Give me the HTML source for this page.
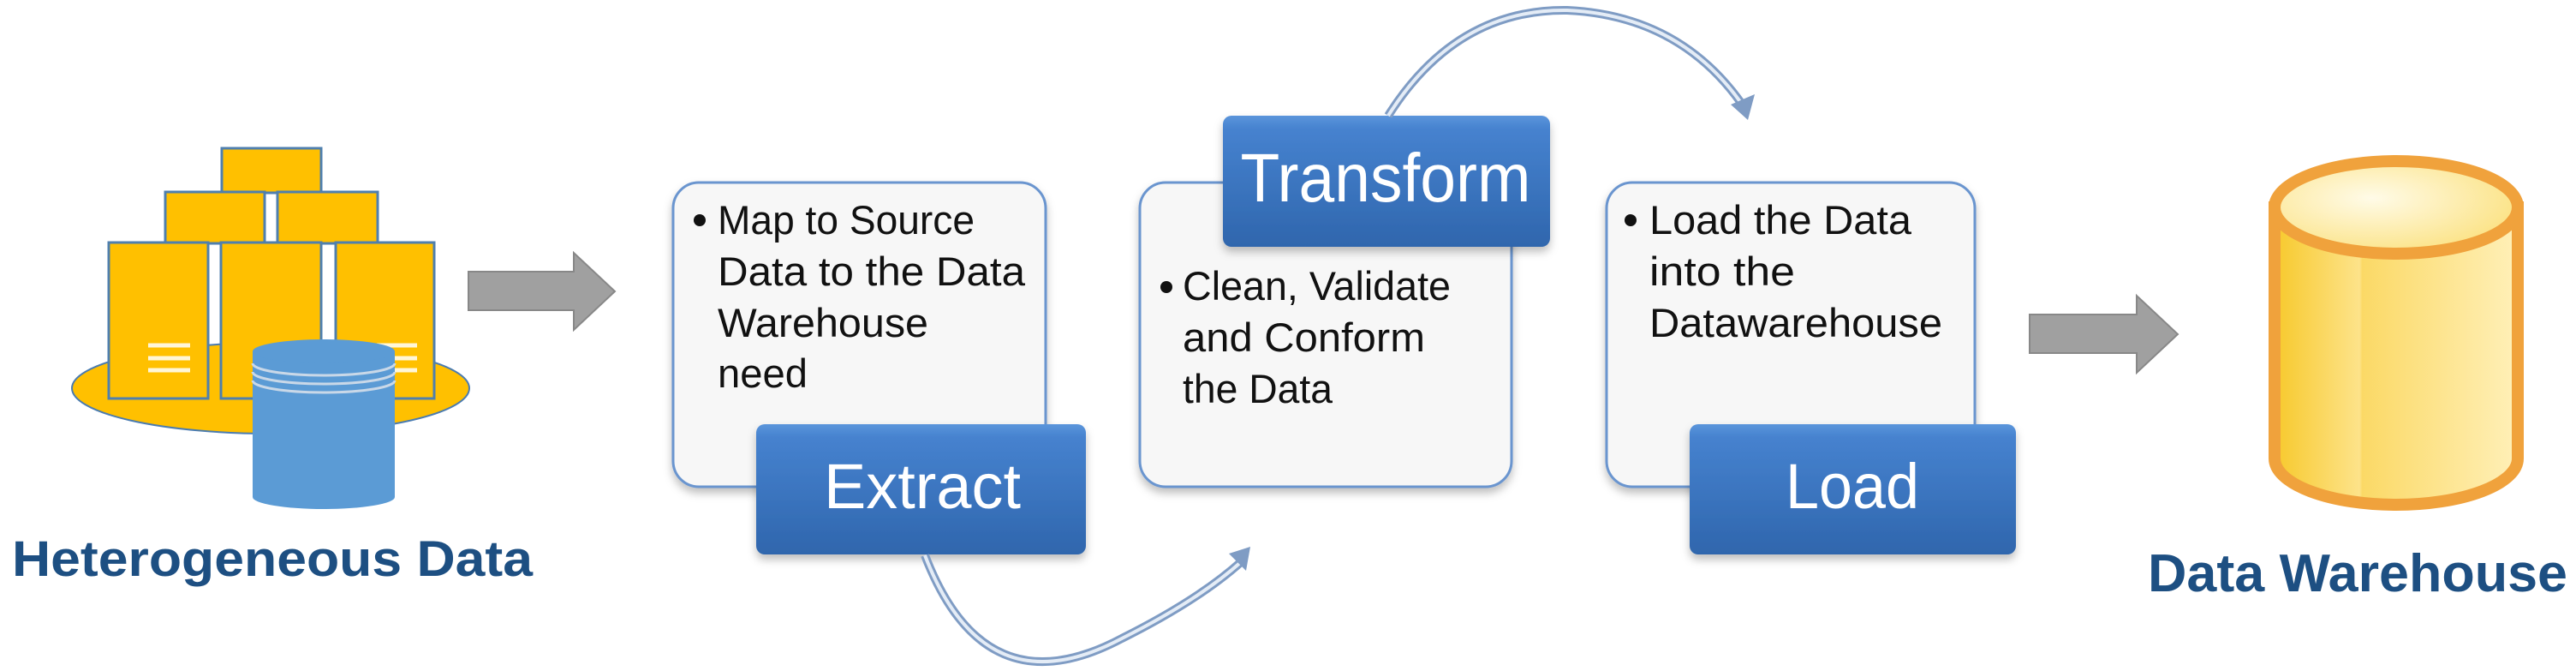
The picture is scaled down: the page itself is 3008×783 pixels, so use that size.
<!DOCTYPE html>
<html><head><meta charset="utf-8"><style>
html,body{margin:0;padding:0;background:#fff;}
svg{display:block;}
.t{font-family:"Liberation Sans",sans-serif;fill:#111;font-size:47px;}
.b{font-family:"Liberation Sans",sans-serif;fill:#fff;}
.h{font-family:"Liberation Sans",sans-serif;fill:#1d4f82;font-weight:bold;}
</style></head><body>
<svg width="3008" height="783" viewBox="0 0 3008 783" xmlns="http://www.w3.org/2000/svg">
<defs>
<linearGradient id="btn" x1="0" y1="0" x2="0" y2="1">
<stop offset="0" stop-color="#5b95db"/><stop offset="0.1" stop-color="#4682cf"/><stop offset="1" stop-color="#2f66ad"/>
</linearGradient>
<linearGradient id="cyl" x1="0" y1="0" x2="1" y2="0">
<stop offset="0" stop-color="#f7c92c"/><stop offset="0.35" stop-color="#fde38a"/><stop offset="0.36" stop-color="#fbd966"/><stop offset="1" stop-color="#fff0b8"/>
</linearGradient>
<radialGradient id="top" cx="0.4" cy="0.4" r="0.7">
<stop offset="0" stop-color="#fffbe8"/><stop offset="1" stop-color="#fbe07a"/>
</radialGradient>
<filter id="sh" x="-10%" y="-10%" width="130%" height="140%"><feDropShadow dx="0" dy="6" stdDeviation="5" flood-color="#000" flood-opacity="0.25"/></filter>
</defs>

<ellipse cx="316" cy="453" rx="232" ry="53" fill="#ffc000" stroke="#4a7bb0" stroke-width="2"/>
<g fill="#ffc000" stroke="#4f7fae" stroke-width="3">
<rect x="259" y="173" width="116" height="52"/>
<rect x="193" y="224" width="116" height="60"/>
<rect x="324" y="224" width="117" height="60"/>
<rect x="127" y="283" width="116" height="182"/>
<rect x="258" y="283" width="117" height="182"/>
<rect x="392" y="283" width="115" height="182"/>
</g>
<g stroke="#fff6d8" stroke-width="5">
<line x1="173" y1="403" x2="222" y2="403"/><line x1="173" y1="418" x2="222" y2="418"/><line x1="173" y1="432" x2="222" y2="432"/>
<line x1="440" y1="403" x2="487" y2="403"/><line x1="440" y1="418" x2="487" y2="418"/><line x1="440" y1="432" x2="487" y2="432"/>
</g>
<path d="M295 410 L295 580 A83 14 0 0 0 461 580 L461 410 Z" fill="#5b9bd5"/>
<ellipse cx="378" cy="410" rx="83" ry="14" fill="#5b9bd5"/>
<g fill="none" stroke="#c9d8e8" stroke-width="3">
<path d="M295 424 A83 14 0 0 0 461 424"/><path d="M295 434 A83 14 0 0 0 461 434"/><path d="M295 444 A83 14 0 0 0 461 444"/>
</g>
<text class="h" x="14" y="672" font-size="58" textLength="608" lengthAdjust="spacingAndGlyphs">Heterogeneous Data</text>

<path d="M547 317 L670 317 L670 295 L718 340 L670 385 L670 362 L547 362 Z" fill="#a0a0a0" stroke="#888" stroke-width="2"/>

<rect x="786" y="213" width="435" height="355" rx="30" fill="#f7f7f7" stroke="#6a95cf" stroke-width="3" filter="url(#sh)"/>
<circle cx="817" cy="257" r="7" fill="#111"/>
<text class="t" x="838" y="273" textLength="300" lengthAdjust="spacingAndGlyphs">Map to Source</text>
<text class="t" x="838" y="333" textLength="359" lengthAdjust="spacingAndGlyphs">Data to the Data</text>
<text class="t" x="838" y="393" textLength="246" lengthAdjust="spacingAndGlyphs">Warehouse</text>
<text class="t" x="838" y="452" textLength="105" lengthAdjust="spacingAndGlyphs">need</text>
<rect x="883" y="495" width="385" height="152" rx="10" fill="url(#btn)" filter="url(#sh)"/>
<text class="b" x="1077" y="593" font-size="74" text-anchor="middle" textLength="230" lengthAdjust="spacingAndGlyphs">Extract</text>

<path d="M1080 648 Q1150 830 1310 745 Q1400 700 1450 655" fill="none" stroke="#7f9cc4" stroke-width="10"/>
<path d="M1080 648 Q1150 830 1310 745 Q1400 700 1450 655" fill="none" stroke="#e4ecf6" stroke-width="4"/>
<path d="M1435 646 L1460 638 L1455 666 Z" fill="#7f9cc4"/>

<rect x="1331" y="213" width="434" height="355" rx="30" fill="#f7f7f7" stroke="#6a95cf" stroke-width="3" filter="url(#sh)"/>
<circle cx="1362" cy="335" r="7" fill="#111"/>
<text class="t" x="1381" y="350" textLength="313" lengthAdjust="spacingAndGlyphs">Clean, Validate</text>
<text class="t" x="1381" y="410" textLength="283" lengthAdjust="spacingAndGlyphs">and Conform</text>
<text class="t" x="1381" y="470" textLength="175" lengthAdjust="spacingAndGlyphs">the Data</text>
<rect x="1428" y="135" width="382" height="153" rx="10" fill="url(#btn)" filter="url(#sh)"/>
<text class="b" x="1618" y="235" font-size="80" text-anchor="middle" textLength="339" lengthAdjust="spacingAndGlyphs">Transform</text>

<path d="M1621 135 Q1700 10 1830 12 Q1960 18 2033 120" fill="none" stroke="#7f9cc4" stroke-width="10"/>
<path d="M1621 135 Q1700 10 1830 12 Q1960 18 2033 120" fill="none" stroke="#e4ecf6" stroke-width="4"/>
<path d="M2021 122 L2049 110 L2041 140 Z" fill="#7f9cc4"/>

<rect x="1876" y="213" width="430" height="355" rx="30" fill="#f7f7f7" stroke="#6a95cf" stroke-width="3" filter="url(#sh)"/>
<circle cx="1904" cy="257" r="7" fill="#111"/>
<text class="t" x="1926" y="273" textLength="306" lengthAdjust="spacingAndGlyphs">Load the Data</text>
<text class="t" x="1926" y="333" textLength="170" lengthAdjust="spacingAndGlyphs">into the</text>
<text class="t" x="1926" y="393" textLength="342" lengthAdjust="spacingAndGlyphs">Datawarehouse</text>
<rect x="1973" y="495" width="381" height="152" rx="10" fill="url(#btn)" filter="url(#sh)"/>
<text class="b" x="2163" y="593" font-size="74" text-anchor="middle" textLength="156" lengthAdjust="spacingAndGlyphs">Load</text>

<path d="M2370 367 L2495 367 L2495 345 L2543 390 L2495 435 L2495 412 L2370 412 Z" fill="#a0a0a0" stroke="#888" stroke-width="2"/>

<path d="M2656 242 L2656 535 A142 54 0 0 0 2940 535 L2940 242 Z" fill="url(#cyl)" stroke="#f0a23c" stroke-width="14"/>
<ellipse cx="2798" cy="242" rx="142" ry="54" fill="url(#top)" stroke="#f0a23c" stroke-width="14"/>
<text class="h" x="2508" y="690" font-size="62" textLength="490" lengthAdjust="spacingAndGlyphs">Data Warehouse</text>
</svg>
</body></html>
